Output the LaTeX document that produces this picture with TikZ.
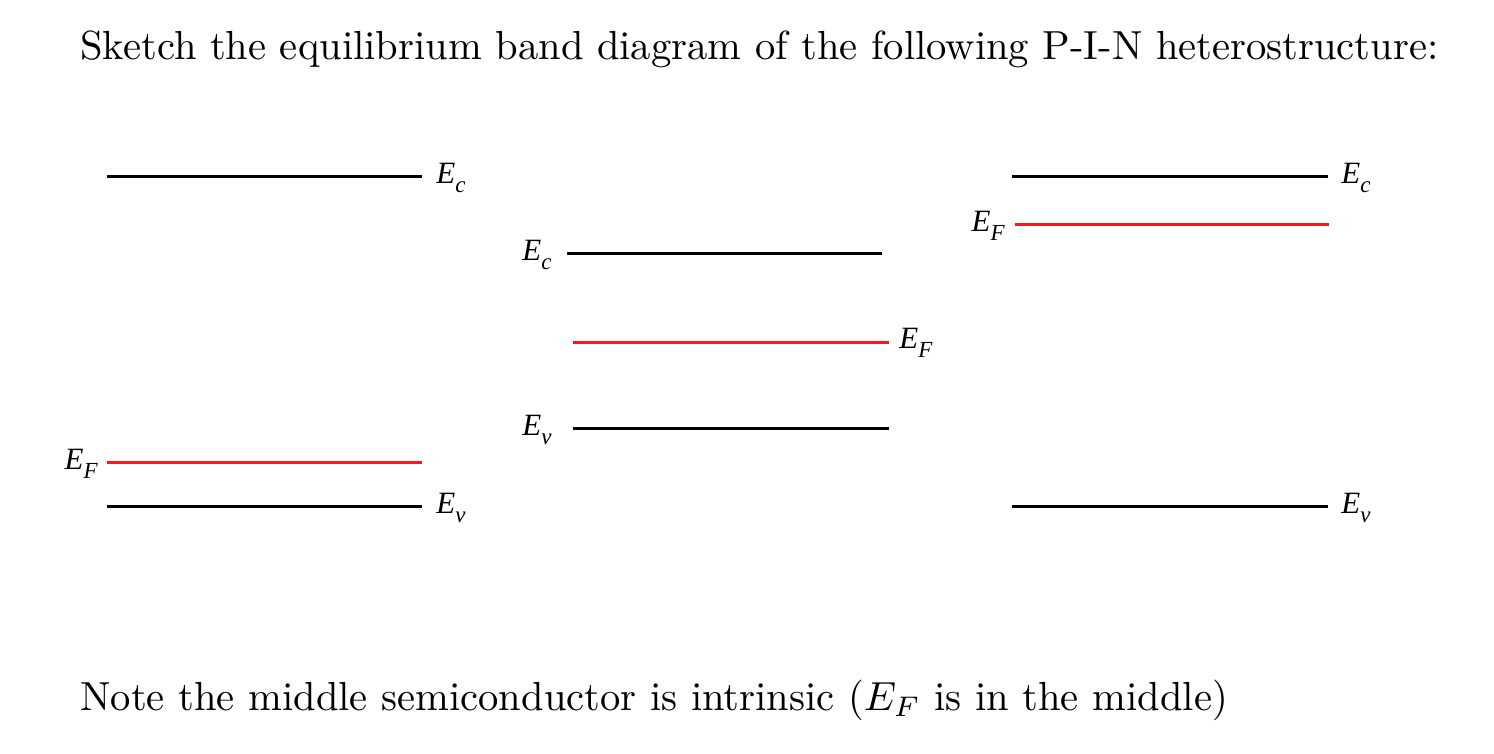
\documentclass[tikz,border=0pt]{standalone}
\usepackage{fontspec}
\newfontfamily\lblfont{Liberation Serif}
\definecolor{bandred}{RGB}{245,25,25}
% band label: italic E with a lowered subscript
\newcommand{\band}[1]{{\lblfont\itshape\fontsize{15.5}{15.5}\selectfont E\raisebox{-4.5pt}{\fontsize{11.5}{11.5}\selectfont #1}}}
% text set at 10pt and blown up
\newcommand{\bigtext}[1]{\scalebox{2.03}{\fontsize{10}{12}\selectfont #1}}
\begin{document}
\begin{tikzpicture}[x=0.5pt,y=-0.5pt,
    level/.style={line width=1.5pt},
    fermi/.style={line width=1.5pt,draw=bandred},
    lbl/.style={inner sep=0pt},
    txt/.style={anchor=base west,inner sep=0pt}]
  \useasboundingbox (0,0) rectangle (1494,754);
  % Title and note
  \node[txt] (title) at (80,60) {\bigtext{Sketch the equilibrium band diagram of the following P-I-N heterostructure:}};
  \node[txt] (note) at (80,710) {\bigtext{Note the middle semiconductor is intrinsic ($E_F$ is in the middle)}};
  % Band edges (name/left/right/height)
  \foreach \n/\a/\b/\y in {Pc/107/422/177, Pv/107/422/506, Ic/567/882/254, Iv/573/889/428, Nc/1012/1328/177, Nv/1012/1328/506} {
    \coordinate (\n-l) at (\a,\y); \coordinate (\n-r) at (\b,\y);
    \draw[level] (\n-l) -- (\n-r);}
  % Fermi levels
  \foreach \n/\a/\b/\y in {PF/107/422/462, IF/573/889/342, NF/1015/1329/225} {
    \coordinate (\n-l) at (\a,\y); \coordinate (\n-r) at (\b,\y);
    \draw[fermi] (\n-l) -- (\n-r);}
  % Labels on the right
  \node[lbl,anchor=base west] (PcL) at ([shift={(14,7)}]Pc-r) {\band{c}};
  \node[lbl,anchor=base west] (PvL) at ([shift={(14,7)}]Pv-r) {\band{v}};
  \node[lbl,anchor=base west] (IFL) at ([shift={(10,7)}]IF-r) {\band{F}};
  \node[lbl,anchor=base west] (NcL) at ([shift={(13,7)}]Nc-r) {\band{c}};
  \node[lbl,anchor=base west] (NvL) at ([shift={(13,7)}]Nv-r) {\band{v}};
  % Labels on the left
  \node[lbl,anchor=base east] (PFL) at ([shift={(-9,7)}]PF-l) {\band{F}};
  \node[lbl,anchor=base east] (IcL) at ([shift={(-15,7)}]Ic-l) {\band{c}};
  \node[lbl,anchor=base east] (IvL) at ([shift={(-21,7)}]Iv-l) {\band{v}};
  \node[lbl,anchor=base east] (NFL) at ([shift={(-10,7)}]NF-l) {\band{F}};
\end{tikzpicture}
\end{document}
